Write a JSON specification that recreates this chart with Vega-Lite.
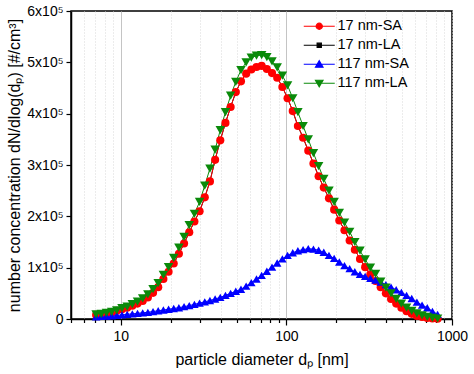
{
  "$schema": "https://vega.github.io/schema/vega-lite/v6.json",
  "width": 381,
  "height": 308,
  "autosize": "none",
  "padding": {"left": 71, "top": 11, "right": 22, "bottom": 55},
  "background": "white",
  "config": {
    "font": "Liberation Sans",
    "view": {"stroke": "black", "strokeWidth": 1.5},
    "axis": {
      "domainColor": "black",
      "domainWidth": 1.5,
      "tickColor": "black",
      "tickWidth": 1.2,
      "labelColor": "black",
      "titleColor": "black",
      "labelFont": "Liberation Sans",
      "titleFont": "Liberation Sans",
      "titleFontWeight": "normal"
    }
  },
  "data": {
    "values": [
      {"d":7.09,"n":8000,"s":"17 nm-LA"},{"d":7.62,"n":9000,"s":"17 nm-LA"},{"d":8.19,"n":11000,"s":"17 nm-LA"},{"d":8.80,"n":13000,"s":"17 nm-LA"},{"d":9.45,"n":16000,"s":"17 nm-LA"},{"d":10.16,"n":19000,"s":"17 nm-LA"},{"d":10.92,"n":22000,"s":"17 nm-LA"},{"d":11.73,"n":26000,"s":"17 nm-LA"},{"d":12.61,"n":30000,"s":"17 nm-LA"},{"d":13.55,"n":35000,"s":"17 nm-LA"},{"d":14.56,"n":42000,"s":"17 nm-LA"},{"d":15.65,"n":51000,"s":"17 nm-LA"},{"d":16.81,"n":62000,"s":"17 nm-LA"},{"d":18.07,"n":78000,"s":"17 nm-LA"},{"d":19.42,"n":92000,"s":"17 nm-LA"},{"d":20.86,"n":108000,"s":"17 nm-LA"},{"d":22.42,"n":127000,"s":"17 nm-LA"},{"d":24.09,"n":147000,"s":"17 nm-LA"},{"d":25.89,"n":169000,"s":"17 nm-LA"},{"d":27.82,"n":190000,"s":"17 nm-LA"},{"d":29.89,"n":210000,"s":"17 nm-LA"},{"d":32.13,"n":237000,"s":"17 nm-LA"},{"d":34.52,"n":268000,"s":"17 nm-LA"},{"d":37.10,"n":310000,"s":"17 nm-LA"},{"d":39.86,"n":348000,"s":"17 nm-LA"},{"d":42.84,"n":382000,"s":"17 nm-LA"},{"d":46.03,"n":413000,"s":"17 nm-LA"},{"d":49.47,"n":442000,"s":"17 nm-LA"},{"d":53.16,"n":463000,"s":"17 nm-LA"},{"d":57.12,"n":478000,"s":"17 nm-LA"},{"d":61.38,"n":486000,"s":"17 nm-LA"},{"d":65.96,"n":491000,"s":"17 nm-LA"},{"d":70.88,"n":493000,"s":"17 nm-LA"},{"d":76.17,"n":487000,"s":"17 nm-LA"},{"d":81.85,"n":479000,"s":"17 nm-LA"},{"d":87.96,"n":470000,"s":"17 nm-LA"},{"d":94.53,"n":452000,"s":"17 nm-LA"},{"d":101.6,"n":430000,"s":"17 nm-LA"},{"d":109.2,"n":405000,"s":"17 nm-LA"},{"d":117.3,"n":376000,"s":"17 nm-LA"},{"d":126.1,"n":353000,"s":"17 nm-LA"},{"d":135.5,"n":328000,"s":"17 nm-LA"},{"d":145.6,"n":303000,"s":"17 nm-LA"},{"d":156.5,"n":278000,"s":"17 nm-LA"},{"d":168.1,"n":256000,"s":"17 nm-LA"},{"d":180.7,"n":235000,"s":"17 nm-LA"},{"d":194.2,"n":213000,"s":"17 nm-LA"},{"d":208.6,"n":192000,"s":"17 nm-LA"},{"d":224.2,"n":173000,"s":"17 nm-LA"},{"d":240.9,"n":153000,"s":"17 nm-LA"},{"d":258.9,"n":135000,"s":"17 nm-LA"},{"d":278.2,"n":117000,"s":"17 nm-LA"},{"d":298.9,"n":101000,"s":"17 nm-LA"},{"d":321.3,"n":87000,"s":"17 nm-LA"},{"d":345.2,"n":74000,"s":"17 nm-LA"},{"d":371.0,"n":62000,"s":"17 nm-LA"},{"d":398.6,"n":50000,"s":"17 nm-LA"},{"d":428.4,"n":39000,"s":"17 nm-LA"},{"d":460.3,"n":30000,"s":"17 nm-LA"},{"d":494.7,"n":22000,"s":"17 nm-LA"},{"d":531.6,"n":15000,"s":"17 nm-LA"},{"d":571.2,"n":10000,"s":"17 nm-LA"},{"d":613.8,"n":6000,"s":"17 nm-LA"},{"d":659.6,"n":4000,"s":"17 nm-LA"},{"d":708.8,"n":2000,"s":"17 nm-LA"},{"d":761.7,"n":1000,"s":"17 nm-LA"},{"d":818.5,"n":500,"s":"17 nm-LA"},

      {"d":7.09,"n":8000,"s":"17 nm-SA"},{"d":7.62,"n":9000,"s":"17 nm-SA"},{"d":8.19,"n":11000,"s":"17 nm-SA"},{"d":8.80,"n":13000,"s":"17 nm-SA"},{"d":9.45,"n":16000,"s":"17 nm-SA"},{"d":10.16,"n":19000,"s":"17 nm-SA"},{"d":10.92,"n":22000,"s":"17 nm-SA"},{"d":11.73,"n":26000,"s":"17 nm-SA"},{"d":12.61,"n":30000,"s":"17 nm-SA"},{"d":13.55,"n":35000,"s":"17 nm-SA"},{"d":14.56,"n":42000,"s":"17 nm-SA"},{"d":15.65,"n":51000,"s":"17 nm-SA"},{"d":16.81,"n":62000,"s":"17 nm-SA"},{"d":18.07,"n":78000,"s":"17 nm-SA"},{"d":19.42,"n":92000,"s":"17 nm-SA"},{"d":20.86,"n":108000,"s":"17 nm-SA"},{"d":22.42,"n":127000,"s":"17 nm-SA"},{"d":24.09,"n":147000,"s":"17 nm-SA"},{"d":25.89,"n":169000,"s":"17 nm-SA"},{"d":27.82,"n":190000,"s":"17 nm-SA"},{"d":29.89,"n":210000,"s":"17 nm-SA"},{"d":32.13,"n":237000,"s":"17 nm-SA"},{"d":34.52,"n":268000,"s":"17 nm-SA"},{"d":37.10,"n":310000,"s":"17 nm-SA"},{"d":39.86,"n":348000,"s":"17 nm-SA"},{"d":42.84,"n":382000,"s":"17 nm-SA"},{"d":46.03,"n":413000,"s":"17 nm-SA"},{"d":49.47,"n":442000,"s":"17 nm-SA"},{"d":53.16,"n":463000,"s":"17 nm-SA"},{"d":57.12,"n":478000,"s":"17 nm-SA"},{"d":61.38,"n":486000,"s":"17 nm-SA"},{"d":65.96,"n":491000,"s":"17 nm-SA"},{"d":70.88,"n":493000,"s":"17 nm-SA"},{"d":76.17,"n":487000,"s":"17 nm-SA"},{"d":81.85,"n":479000,"s":"17 nm-SA"},{"d":87.96,"n":470000,"s":"17 nm-SA"},{"d":94.53,"n":452000,"s":"17 nm-SA"},{"d":101.6,"n":430000,"s":"17 nm-SA"},{"d":109.2,"n":405000,"s":"17 nm-SA"},{"d":117.3,"n":376000,"s":"17 nm-SA"},{"d":126.1,"n":353000,"s":"17 nm-SA"},{"d":135.5,"n":328000,"s":"17 nm-SA"},{"d":145.6,"n":303000,"s":"17 nm-SA"},{"d":156.5,"n":278000,"s":"17 nm-SA"},{"d":168.1,"n":256000,"s":"17 nm-SA"},{"d":180.7,"n":235000,"s":"17 nm-SA"},{"d":194.2,"n":213000,"s":"17 nm-SA"},{"d":208.6,"n":192000,"s":"17 nm-SA"},{"d":224.2,"n":173000,"s":"17 nm-SA"},{"d":240.9,"n":153000,"s":"17 nm-SA"},{"d":258.9,"n":135000,"s":"17 nm-SA"},{"d":278.2,"n":117000,"s":"17 nm-SA"},{"d":298.9,"n":101000,"s":"17 nm-SA"},{"d":321.3,"n":87000,"s":"17 nm-SA"},{"d":345.2,"n":74000,"s":"17 nm-SA"},{"d":371.0,"n":62000,"s":"17 nm-SA"},{"d":398.6,"n":50000,"s":"17 nm-SA"},{"d":428.4,"n":39000,"s":"17 nm-SA"},{"d":460.3,"n":30000,"s":"17 nm-SA"},{"d":494.7,"n":22000,"s":"17 nm-SA"},{"d":531.6,"n":15000,"s":"17 nm-SA"},{"d":571.2,"n":10000,"s":"17 nm-SA"},{"d":613.8,"n":6000,"s":"17 nm-SA"},{"d":659.6,"n":4000,"s":"17 nm-SA"},{"d":708.8,"n":2000,"s":"17 nm-SA"},{"d":761.7,"n":1000,"s":"17 nm-SA"},{"d":818.5,"n":500,"s":"17 nm-SA"},

      {"d":7.09,"n":4000,"s":"117 nm-SA"},{"d":7.62,"n":5000,"s":"117 nm-SA"},{"d":8.19,"n":5500,"s":"117 nm-SA"},{"d":8.80,"n":6000,"s":"117 nm-SA"},{"d":9.45,"n":7000,"s":"117 nm-SA"},{"d":10.16,"n":8000,"s":"117 nm-SA"},{"d":10.92,"n":9000,"s":"117 nm-SA"},{"d":11.73,"n":10000,"s":"117 nm-SA"},{"d":12.61,"n":11000,"s":"117 nm-SA"},{"d":13.55,"n":12000,"s":"117 nm-SA"},{"d":14.56,"n":13000,"s":"117 nm-SA"},{"d":15.65,"n":14500,"s":"117 nm-SA"},{"d":16.81,"n":16000,"s":"117 nm-SA"},{"d":18.07,"n":17500,"s":"117 nm-SA"},{"d":19.42,"n":19000,"s":"117 nm-SA"},{"d":20.86,"n":20500,"s":"117 nm-SA"},{"d":22.42,"n":22000,"s":"117 nm-SA"},{"d":24.09,"n":24000,"s":"117 nm-SA"},{"d":25.89,"n":26000,"s":"117 nm-SA"},{"d":27.82,"n":28500,"s":"117 nm-SA"},{"d":29.89,"n":31000,"s":"117 nm-SA"},{"d":32.13,"n":33500,"s":"117 nm-SA"},{"d":34.52,"n":36000,"s":"117 nm-SA"},{"d":37.10,"n":39000,"s":"117 nm-SA"},{"d":39.86,"n":42000,"s":"117 nm-SA"},{"d":42.84,"n":46000,"s":"117 nm-SA"},{"d":46.03,"n":50000,"s":"117 nm-SA"},{"d":49.47,"n":54000,"s":"117 nm-SA"},{"d":53.16,"n":58000,"s":"117 nm-SA"},{"d":57.12,"n":64000,"s":"117 nm-SA"},{"d":61.38,"n":71000,"s":"117 nm-SA"},{"d":65.96,"n":78000,"s":"117 nm-SA"},{"d":70.88,"n":85000,"s":"117 nm-SA"},{"d":76.17,"n":93000,"s":"117 nm-SA"},{"d":81.85,"n":101000,"s":"117 nm-SA"},{"d":87.96,"n":109000,"s":"117 nm-SA"},{"d":94.53,"n":117000,"s":"117 nm-SA"},{"d":101.6,"n":124000,"s":"117 nm-SA"},{"d":109.2,"n":129000,"s":"117 nm-SA"},{"d":117.3,"n":133000,"s":"117 nm-SA"},{"d":126.1,"n":135000,"s":"117 nm-SA"},{"d":135.5,"n":137000,"s":"117 nm-SA"},{"d":145.6,"n":136000,"s":"117 nm-SA"},{"d":156.5,"n":134000,"s":"117 nm-SA"},{"d":168.1,"n":130000,"s":"117 nm-SA"},{"d":180.7,"n":124000,"s":"117 nm-SA"},{"d":194.2,"n":118000,"s":"117 nm-SA"},{"d":208.6,"n":111000,"s":"117 nm-SA"},{"d":224.2,"n":104000,"s":"117 nm-SA"},{"d":240.9,"n":98000,"s":"117 nm-SA"},{"d":258.9,"n":92000,"s":"117 nm-SA"},{"d":278.2,"n":87000,"s":"117 nm-SA"},{"d":298.9,"n":83000,"s":"117 nm-SA"},{"d":321.3,"n":79000,"s":"117 nm-SA"},{"d":345.2,"n":76000,"s":"117 nm-SA"},{"d":371.0,"n":72000,"s":"117 nm-SA"},{"d":398.6,"n":67000,"s":"117 nm-SA"},{"d":428.4,"n":62000,"s":"117 nm-SA"},{"d":460.3,"n":57000,"s":"117 nm-SA"},{"d":494.7,"n":52000,"s":"117 nm-SA"},{"d":531.6,"n":46000,"s":"117 nm-SA"},{"d":571.2,"n":40000,"s":"117 nm-SA"},{"d":613.8,"n":33000,"s":"117 nm-SA"},{"d":659.6,"n":27000,"s":"117 nm-SA"},{"d":708.8,"n":22000,"s":"117 nm-SA"},{"d":761.7,"n":15000,"s":"117 nm-SA"},{"d":818.5,"n":9000,"s":"117 nm-SA"},

      {"d":7.09,"n":9000,"s":"117 nm-LA"},{"d":7.62,"n":10000,"s":"117 nm-LA"},{"d":8.19,"n":12000,"s":"117 nm-LA"},{"d":8.80,"n":14000,"s":"117 nm-LA"},{"d":9.45,"n":17000,"s":"117 nm-LA"},{"d":10.16,"n":21000,"s":"117 nm-LA"},{"d":10.92,"n":24000,"s":"117 nm-LA"},{"d":11.73,"n":29000,"s":"117 nm-LA"},{"d":12.61,"n":34000,"s":"117 nm-LA"},{"d":13.55,"n":40000,"s":"117 nm-LA"},{"d":14.56,"n":48000,"s":"117 nm-LA"},{"d":15.65,"n":58000,"s":"117 nm-LA"},{"d":16.81,"n":70000,"s":"117 nm-LA"},{"d":18.07,"n":86000,"s":"117 nm-LA"},{"d":19.42,"n":101000,"s":"117 nm-LA"},{"d":20.86,"n":119000,"s":"117 nm-LA"},{"d":22.42,"n":139000,"s":"117 nm-LA"},{"d":24.09,"n":160000,"s":"117 nm-LA"},{"d":25.89,"n":183000,"s":"117 nm-LA"},{"d":27.82,"n":205000,"s":"117 nm-LA"},{"d":29.89,"n":228000,"s":"117 nm-LA"},{"d":32.13,"n":260000,"s":"117 nm-LA"},{"d":34.52,"n":293000,"s":"117 nm-LA"},{"d":37.10,"n":330000,"s":"117 nm-LA"},{"d":39.86,"n":368000,"s":"117 nm-LA"},{"d":42.84,"n":403000,"s":"117 nm-LA"},{"d":46.03,"n":435000,"s":"117 nm-LA"},{"d":49.47,"n":462000,"s":"117 nm-LA"},{"d":53.16,"n":485000,"s":"117 nm-LA"},{"d":57.12,"n":500000,"s":"117 nm-LA"},{"d":61.38,"n":509000,"s":"117 nm-LA"},{"d":65.96,"n":513000,"s":"117 nm-LA"},{"d":70.88,"n":514000,"s":"117 nm-LA"},{"d":76.17,"n":510000,"s":"117 nm-LA"},{"d":81.85,"n":502000,"s":"117 nm-LA"},{"d":87.96,"n":490000,"s":"117 nm-LA"},{"d":94.53,"n":474000,"s":"117 nm-LA"},{"d":101.6,"n":455000,"s":"117 nm-LA"},{"d":109.2,"n":430000,"s":"117 nm-LA"},{"d":117.3,"n":403000,"s":"117 nm-LA"},{"d":126.1,"n":376000,"s":"117 nm-LA"},{"d":135.5,"n":350000,"s":"117 nm-LA"},{"d":145.6,"n":323000,"s":"117 nm-LA"},{"d":156.5,"n":298000,"s":"117 nm-LA"},{"d":168.1,"n":273000,"s":"117 nm-LA"},{"d":180.7,"n":250000,"s":"117 nm-LA"},{"d":194.2,"n":228000,"s":"117 nm-LA"},{"d":208.6,"n":207000,"s":"117 nm-LA"},{"d":224.2,"n":188000,"s":"117 nm-LA"},{"d":240.9,"n":170000,"s":"117 nm-LA"},{"d":258.9,"n":150000,"s":"117 nm-LA"},{"d":278.2,"n":133000,"s":"117 nm-LA"},{"d":298.9,"n":116000,"s":"117 nm-LA"},{"d":321.3,"n":100000,"s":"117 nm-LA"},{"d":345.2,"n":88000,"s":"117 nm-LA"},{"d":371.0,"n":73000,"s":"117 nm-LA"},{"d":398.6,"n":61000,"s":"117 nm-LA"},{"d":428.4,"n":50000,"s":"117 nm-LA"},{"d":460.3,"n":39000,"s":"117 nm-LA"},{"d":494.7,"n":30000,"s":"117 nm-LA"},{"d":531.6,"n":22000,"s":"117 nm-LA"},{"d":571.2,"n":16000,"s":"117 nm-LA"},{"d":613.8,"n":11000,"s":"117 nm-LA"},{"d":659.6,"n":7000,"s":"117 nm-LA"},{"d":708.8,"n":4000,"s":"117 nm-LA"},{"d":761.7,"n":2000,"s":"117 nm-LA"},{"d":818.5,"n":1000,"s":"117 nm-LA"}
    ]
  },
  "layer": [
    {
      "mark": {"type": "line", "strokeWidth": 1},
      "encoding": {
        "x": {
          "field": "d",
          "type": "quantitative",
          "scale": {"type": "log", "domain": [5, 1000], "nice": false},
          "axis": {
            "values": [5, 6, 7, 8, 9, 10, 20, 30, 40, 50, 60, 70, 80, 90, 100, 200, 300, 400, 500, 600, 700, 800, 900, 1000],
            "labelExpr": "datum.value == 10 || datum.value == 100 || datum.value == 1000 ? format(datum.value, 'd') : ''",
            "labelFlush": false,
            "labelOverlap": false,
            "labelFontSize": 14,
            "labelPadding": 4,
            "tickSize": {"condition": {"test": "datum.value == 10 || datum.value == 100 || datum.value == 1000", "value": 6}, "value": 3.5},
            "grid": true,
            "gridWidth": 1,
            "gridColor": {"condition": {"test": "datum.value == 10 || datum.value == 100", "value": "#c4c4c4"}, "value": "#d8d8d8"},
            "gridDash": {"condition": {"test": "datum.value == 10 || datum.value == 100", "value": []}, "value": [1, 2]},
            "title": "particle diameter dₚ [nm]",
            "titleFontSize": 16,
            "titlePadding": 8
          }
        },
        "y": {
          "field": "n",
          "type": "quantitative",
          "scale": {"domain": [0, 600000], "nice": false},
          "axis": {
            "values": [0, 50000, 100000, 150000, 200000, 250000, 300000, 350000, 400000, 450000, 500000, 550000, 600000],
            "labelExpr": "datum.value % 100000 == 0 ? (datum.value == 0 ? '0' : (datum.value / 100000) + 'x10⁵') : ''",
            "labelFlush": false,
            "labelOverlap": false,
            "labelFontSize": 14,
            "labelPadding": 3,
            "tickSize": {"condition": {"test": "datum.value % 100000 == 0", "value": 5}, "value": 3},
            "grid": false,
            "title": "number concentration dN/dlog(dₚ) [#/cm³]",
            "titleFontSize": 16,
            "titlePadding": 4
          }
        },
        "color": {
          "field": "s",
          "type": "nominal",
          "scale": {"domain": ["17 nm-SA", "17 nm-LA", "117 nm-SA", "117 nm-LA"], "range": ["#ff0000", "#000000", "#0000ff", "#0a8a0a"]},
          "legend": null
        }
      }
    },
    {
      "transform": [{"filter": "datum.s == '17 nm-LA'"}],
      "mark": {"type": "point", "filled": true, "opacity": 1, "strokeWidth": 0, "shape": "square", "size": 20, "color": "#000000"},
      "encoding": {
        "x": {"field": "d", "type": "quantitative"},
        "y": {"field": "n", "type": "quantitative"}
      }
    },
    {
      "transform": [{"filter": "datum.s == '17 nm-SA'"}],
      "mark": {"type": "point", "filled": true, "opacity": 1, "strokeWidth": 0, "shape": "circle", "size": 66, "color": "#ff0000"},
      "encoding": {
        "x": {"field": "d", "type": "quantitative"},
        "y": {"field": "n", "type": "quantitative"}
      }
    },
    {
      "transform": [{"filter": "datum.s == '117 nm-SA'"}],
      "mark": {"type": "point", "filled": true, "opacity": 1, "strokeWidth": 0, "shape": "triangle-up", "size": 72, "color": "#0000ff"},
      "encoding": {
        "x": {"field": "d", "type": "quantitative"},
        "y": {"field": "n", "type": "quantitative"}
      }
    },
    {
      "transform": [{"filter": "datum.s == '117 nm-LA'"}],
      "mark": {"type": "point", "filled": true, "opacity": 1, "strokeWidth": 0, "shape": "triangle-down", "size": 90, "color": "#0a8a0a"},
      "encoding": {
        "x": {"field": "d", "type": "quantitative"},
        "y": {"field": "n", "type": "quantitative"}
      }
    },
    {
      "transform": [{"filter": "datum.d < 0"}],
      "mark": {"type": "point", "filled": true, "opacity": 1, "strokeWidth": 1.2},
      "encoding": {
        "x": {"field": "d", "type": "quantitative"},
        "y": {"field": "n", "type": "quantitative"},
        "color": {
          "field": "s",
          "type": "nominal",
          "scale": {"domain": ["17 nm-SA", "17 nm-LA", "117 nm-SA", "117 nm-LA"], "range": ["#ff0000", "#000000", "#0000ff", "#0a8a0a"]},
          "legend": {"orient": "none", "legendX": 241, "legendY": 8, "title": null, "padding": 0, "symbolSize": 100, "symbolStrokeWidth": 1.2, "labelFontSize": 14.5, "labelOffset": 11, "rowPadding": 4, "labelColor": "black", "labelFont": "Liberation Sans"}
        },
        "stroke": {
          "field": "s",
          "type": "nominal",
          "scale": {"domain": ["17 nm-SA", "17 nm-LA", "117 nm-SA", "117 nm-LA"], "range": ["#ff0000", "#000000", "#0000ff", "#0a8a0a"]},
          "legend": {"orient": "none", "legendX": 241, "legendY": 8, "title": null, "padding": 0, "symbolSize": 100, "symbolStrokeWidth": 1.2, "labelFontSize": 14.5, "labelOffset": 11, "rowPadding": 4, "labelColor": "black", "labelFont": "Liberation Sans"}
        },
        "shape": {
          "field": "s",
          "type": "nominal",
          "scale": {
            "domain": ["17 nm-SA", "17 nm-LA", "117 nm-SA", "117 nm-LA"],
            "range": [
              "M-3.1,0H3.1M0.62,0A0.62,0.62 0 1 1 -0.62,0A0.62,0.62 0 1 1 0.62,0Z",
              "M-3.1,0H3.1M-0.42,-0.42H0.42V0.42H-0.42Z",
              "M-3.1,0H3.1M0,-0.7L0.75,0.6H-0.75Z",
              "M-3.1,0H3.1M0,0.7L0.75,-0.6H-0.75Z"
            ]
          },
          "legend": {"orient": "none", "legendX": 241, "legendY": 8, "title": null, "padding": 0, "symbolSize": 100, "symbolStrokeWidth": 1.2, "labelFontSize": 14.5, "labelOffset": 11, "rowPadding": 4, "labelColor": "black", "labelFont": "Liberation Sans"}
        }
      }
    }
  ],
  "resolve": {"scale": {"color": "independent", "shape": "independent", "stroke": "independent"}}
}
